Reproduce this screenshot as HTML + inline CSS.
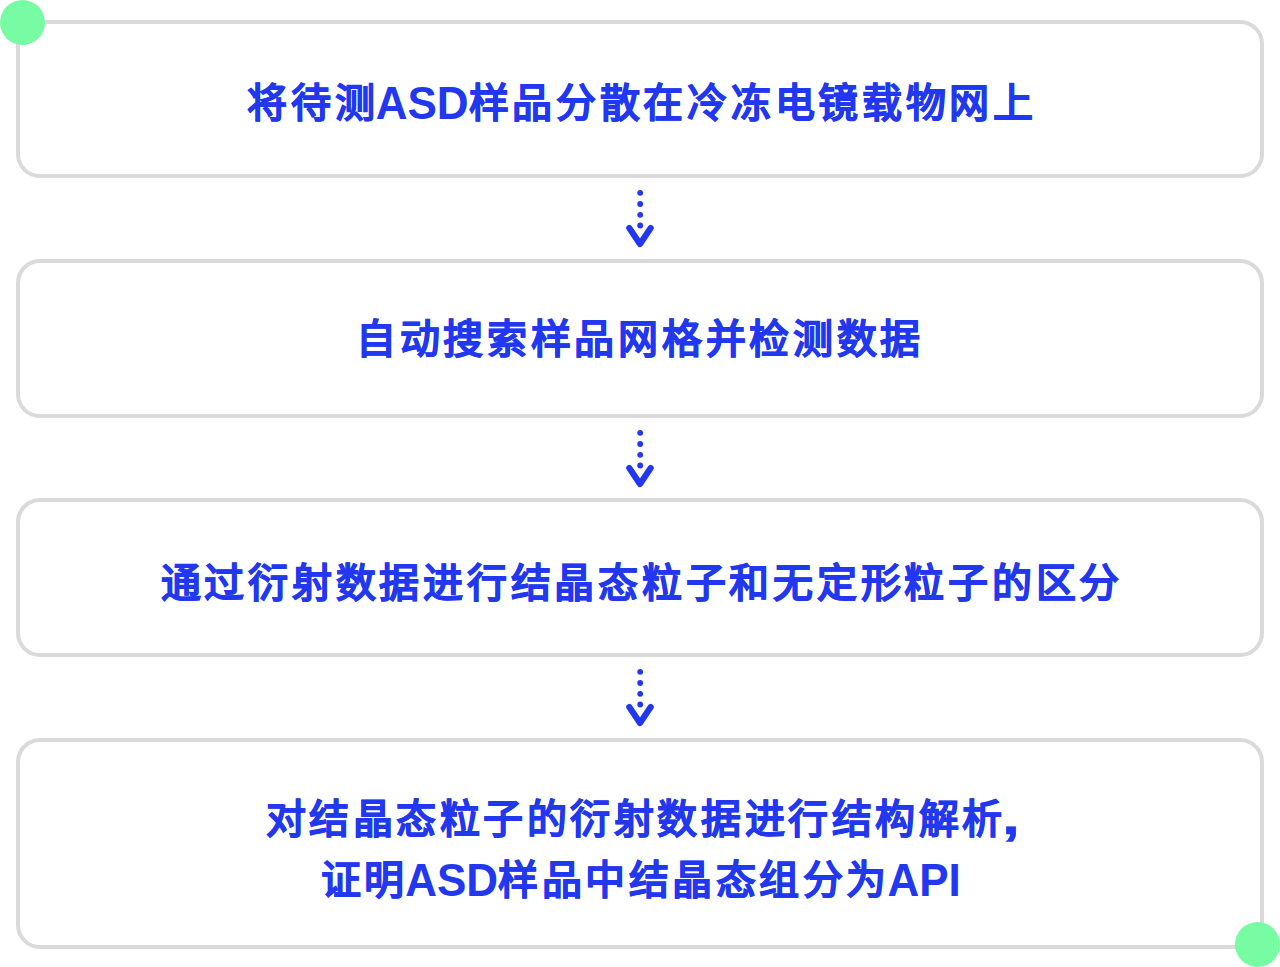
<!DOCTYPE html>
<html lang="zh-CN"><head><meta charset="utf-8">
<style>
html,body{margin:0;padding:0;background:#fff;width:1280px;height:967px;overflow:hidden;position:relative}
.box{position:absolute;left:15.6px;width:1248.8px;box-sizing:border-box;border:4.5px solid #dadada;border-left-width:4.2px;border-right-width:4.2px;border-radius:24px;background:#fff}
.t{position:absolute;left:0;width:1280px;text-align:center;font-family:"Liberation Sans",sans-serif;font-weight:bold;font-size:40px;letter-spacing:3.55px;color:#2238f0;white-space:nowrap;line-height:62px;-webkit-text-stroke:0.6px #2238f0}
.l{font-size:44px;letter-spacing:0;-webkit-text-stroke:0;margin-left:-2.6px;display:inline-block;line-height:62px;vertical-align:top;transform-origin:50% 44px;transform:translateY(1.2px) scaleY(1.03)}
.cm{position:absolute;left:1006.5px;top:-0.5px;font-size:48px;letter-spacing:0;-webkit-text-stroke:0.6px #2238f0;transform:scaleX(1.35);transform-origin:0 0}
.dot{position:absolute;width:60px;height:70px;left:610px}
.g{position:absolute;width:45px;height:45px;border-radius:50%;background:#77fba3}
</style></head><body>
<div class="box" style="top:19.8px;height:158.5px"></div>
<div class="box" style="top:259.3px;height:158.7px"></div>
<div class="box" style="top:498.4px;height:158.4px"></div>
<div class="box" style="top:737.8px;height:211.2px"></div>

<div class="t" style="top:72px;left:2px;letter-spacing:3.7px">将待测<span class="l">ASD</span>样品分散在冷冻电镜载物网上</div>
<div class="t" style="top:307.5px;letter-spacing:3.7px">自动搜索样品网格并检测数据</div>
<div class="t" style="top:551.5px;left:1.9px;letter-spacing:3.75px">通过衍射数据进行结晶态粒子和无定形粒子的区分</div>
<div class="t" style="top:787.5px;left:-4.3px">对结晶态粒子的衍射数据进行结构解析<span class="cm">,</span></div>
<div class="t" style="top:849px;left:0.7px">证明<span class="l">ASD</span>样品中结晶态组分为<span class="l">API</span></div>

<svg class="dot" style="top:180px" viewBox="0 0 60 70"><g fill="#2238f0"><circle cx="30.2" cy="12.8" r="2.9"/><circle cx="30.2" cy="24" r="2.9"/><circle cx="30.2" cy="34.8" r="2.9"/><circle cx="30.2" cy="45.5" r="2.9"/></g><path d="M19.3 48 L30 64 L40.7 48" fill="none" stroke="#2238f0" stroke-width="6.2" stroke-linecap="round" stroke-linejoin="round"/></svg>
<svg class="dot" style="top:420px" viewBox="0 0 60 70"><g fill="#2238f0"><circle cx="30.2" cy="12.8" r="2.9"/><circle cx="30.2" cy="24" r="2.9"/><circle cx="30.2" cy="34.8" r="2.9"/><circle cx="30.2" cy="45.5" r="2.9"/></g><path d="M19.3 48 L30 64 L40.7 48" fill="none" stroke="#2238f0" stroke-width="6.2" stroke-linecap="round" stroke-linejoin="round"/></svg>
<svg class="dot" style="top:659px" viewBox="0 0 60 70"><g fill="#2238f0"><circle cx="30.2" cy="12.8" r="2.9"/><circle cx="30.2" cy="24" r="2.9"/><circle cx="30.2" cy="34.8" r="2.9"/><circle cx="30.2" cy="45.5" r="2.9"/></g><path d="M19.3 48 L30 64 L40.7 48" fill="none" stroke="#2238f0" stroke-width="6.2" stroke-linecap="round" stroke-linejoin="round"/></svg>

<div class="g" style="left:0;top:0"></div>
<div class="g" style="left:1234.5px;top:922px"></div>
</body></html>
